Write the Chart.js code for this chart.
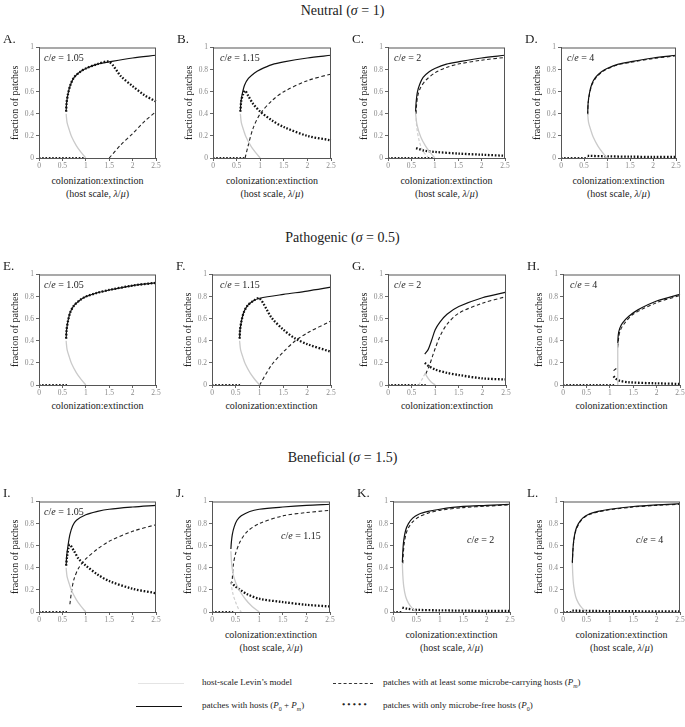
<!DOCTYPE html>
<html>
<head>
<meta charset="utf-8">
<script src="https://cdn.jsdelivr.net/npm/chart.js@4/dist/chart.umd.min.js"></script>
<style>
  body { margin: 0; background: #fff; }
  #wrap { position: relative; width: 685px; height: 727px; font-family: "Liberation Serif", "Times New Roman", serif; color: #222; overflow: hidden; }
  canvas { position: absolute; }
  .t { position: absolute; white-space: nowrap; font-family: "Liberation Serif", "Times New Roman", serif; }
  .sec { font-size: 14px; width: 685px; text-align: center; left: 0; }
  .lab { font-size: 13px; }
  .xt { font-size: 10px; text-align: center; width: 160px; line-height: 13px; }
  .ce { font-size: 10px; }
  .lg { font-size: 9px; }
  .sw { position: absolute; height: 0; }
</style>
</head>
<body>
<div id="wrap"></div>
<script>
// x range 0..2.5 (colonization:extinction), y range 0..1 (fraction of patches)
const xTicks = [0, 0.5, 1, 1.5, 2, 2.5]
const yTicks = [0, 0.2, 0.4, 0.6, 0.8, 1]

//! Neutral
const A_total = [[0.58,0.42],[0.59,0.5],[0.62,0.58],[0.67,0.66],[0.75,0.73],[0.88,0.78],[1.0,0.81],[1.25,0.85],[1.5,0.87],[2.0,0.905],[2.5,0.93]]
const A_p0 = [[0.58,0.42],[0.59,0.5],[0.62,0.58],[0.67,0.66],[0.75,0.73],[0.88,0.78],[1.0,0.81],[1.25,0.85],[1.5,0.87],[1.75,0.74],[2.0,0.65],[2.25,0.57],[2.5,0.51]]
const A_pm = [[1.5,0],[1.75,0.12],[2.0,0.22],[2.25,0.33],[2.5,0.42]]
const A_levin = [[0.58,0.4],[0.6,0.32],[0.65,0.25],[0.7,0.19],[0.8,0.11],[0.9,0.05],[1.0,0]]
const A_zero = [[0,0],[1,0]]

const B_total = [[0.58,0.42],[0.59,0.5],[0.62,0.58],[0.67,0.66],[0.75,0.72],[0.88,0.77],[1.0,0.8],[1.25,0.845],[1.5,0.87],[2.0,0.905],[2.5,0.93]]
const B_p0 = [[0.58,0.42],[0.6,0.52],[0.64,0.58],[0.68,0.61],[0.75,0.56],[0.85,0.49],[1.0,0.42],[1.25,0.34],[1.5,0.28],[2.0,0.2],[2.5,0.16]]
const B_pm = [[0.68,0],[0.75,0.12],[0.85,0.27],[1.0,0.4],[1.25,0.52],[1.5,0.6],[2.0,0.7],[2.5,0.76]]
const B_levin = [[0.58,0.4],[0.6,0.32],[0.65,0.25],[0.7,0.19],[0.8,0.11],[0.9,0.05],[1.0,0]]
const B_zero = [[0,0],[0.68,0]]

const C_total = [[0.59,0.42],[0.6,0.5],[0.63,0.6],[0.68,0.67],[0.75,0.73],[0.88,0.78],[1.0,0.81],[1.25,0.85],[1.5,0.87],[2.0,0.905],[2.5,0.93]]
const C_pm = [[0.6,0.4],[0.61,0.48],[0.64,0.57],[0.7,0.64],[0.8,0.7],[1.0,0.77],[1.25,0.82],[1.5,0.85],[2.0,0.885],[2.5,0.91]]
const C_p0 = [[0.6,0.09],[0.7,0.075],[0.8,0.065],[1.0,0.055],[1.5,0.04],[2.0,0.03],[2.5,0.02]]
const C_levin = [[0.59,0.4],[0.62,0.3],[0.7,0.19],[0.8,0.11],[0.9,0.05],[1.0,0]]
const C_levinPm = [[0.6,0.36],[0.62,0.26],[0.67,0.15],[0.75,0.06],[0.85,0.01]]
const C_zero = [[0,0],[1,0]]

const D_total = [[0.58,0.4],[0.59,0.5],[0.62,0.59],[0.67,0.67],[0.75,0.73],[0.88,0.78],[1.0,0.81],[1.25,0.85],[1.5,0.87],[2.0,0.905],[2.5,0.93]]
const D_pm = [[0.58,0.39],[0.59,0.49],[0.62,0.58],[0.67,0.66],[0.75,0.72],[0.88,0.775],[1.0,0.805],[1.25,0.845],[1.5,0.865],[2.0,0.9],[2.5,0.925]]
const D_p0 = [[0.58,0.02],[1.0,0.015],[1.5,0.012],[2.0,0.01],[2.5,0.01]]
const D_levin = [[0.58,0.4],[0.6,0.32],[0.65,0.25],[0.7,0.19],[0.8,0.11],[0.9,0.05],[1.0,0]]
const D_zero = [[0,0],[0.58,0]]

//! Pathogenic
const E_total = [[0.58,0.42],[0.59,0.5],[0.62,0.58],[0.67,0.66],[0.75,0.72],[0.88,0.77],[1.0,0.8],[1.25,0.835],[1.5,0.86],[2.0,0.9],[2.5,0.925]]
const E_p0 = [[0.58,0.42],[0.59,0.5],[0.62,0.58],[0.67,0.66],[0.75,0.72],[0.88,0.77],[1.0,0.8],[1.25,0.835],[1.5,0.86],[2.0,0.9],[2.5,0.925]]
const E_levin = [[0.58,0.4],[0.6,0.32],[0.65,0.25],[0.7,0.19],[0.8,0.11],[0.9,0.05],[1.0,0]]
const E_zero = [[0,0],[0.6,0]]

const F_total = [[0.58,0.42],[0.59,0.5],[0.62,0.58],[0.67,0.66],[0.75,0.72],[0.88,0.765],[1.0,0.785],[1.5,0.82],[2.0,0.85],[2.5,0.885]]
const F_p0 = [[0.58,0.42],[0.59,0.5],[0.62,0.58],[0.67,0.66],[0.75,0.72],[0.88,0.765],[1.0,0.785],[1.25,0.61],[1.5,0.5],[1.75,0.42],[2.0,0.37],[2.5,0.3]]
const F_pm = [[1.0,0],[1.25,0.18],[1.5,0.3],[1.75,0.4],[2.0,0.47],[2.5,0.58]]
const F_levin = [[0.58,0.4],[0.6,0.32],[0.65,0.25],[0.7,0.19],[0.8,0.11],[0.9,0.05],[1.0,0]]
const F_zero = [[0,0],[0.6,0]]

const G_total = [[0.78,0.28],[0.85,0.32],[0.92,0.4],[1.0,0.5],[1.1,0.57],[1.25,0.64],[1.5,0.71],[2.0,0.79],[2.5,0.84]]
const G_pm = [[0.8,0.1],[0.88,0.18],[0.95,0.27],[1.0,0.33],[1.1,0.44],[1.25,0.55],[1.5,0.65],[2.0,0.74],[2.5,0.8]]
const G_p0 = [[0.78,0.2],[0.85,0.175],[1.0,0.14],[1.25,0.11],[1.5,0.09],[2.0,0.06],[2.5,0.05]]
const G_levin = [[0.78,0.11],[0.85,0.06],[0.92,0.025],[1.0,0]]
const G_levinPm = [[0.65,0],[0.72,0.05],[0.78,0.1]]
const G_zero = [[0,0],[0.8,0]]

const H_total = [[1.17,0.36],[1.18,0.45],[1.21,0.51],[1.27,0.56],[1.4,0.62],[1.6,0.68],[2.0,0.76],[2.5,0.82]]
const H_pm = [[1.17,0.34],[1.19,0.43],[1.22,0.49],[1.3,0.55],[1.5,0.64],[2.0,0.745],[2.5,0.81]]
const H_pmLow = [[1.08,0.13],[1.17,0.16]]
const H_p0 = [[1.08,0.08],[1.12,0.06],[1.2,0.04],[1.4,0.025],[2.0,0.015],[2.5,0.01]]
const H_levin = [[1.17,0],[1.17,0.38]]
const H_zero = [[0,0],[1.1,0]]

//! Beneficial
const I_total = [[0.58,0.42],[0.59,0.5],[0.62,0.6],[0.66,0.7],[0.72,0.78],[0.8,0.83],[1.0,0.88],[1.25,0.91],[1.5,0.93],[2.0,0.95],[2.5,0.965]]
const I_p0 = [[0.58,0.42],[0.6,0.5],[0.63,0.58],[0.66,0.61],[0.75,0.55],[0.85,0.48],[1.0,0.42],[1.25,0.34],[1.5,0.28],[2.0,0.21],[2.5,0.17]]
const I_pm = [[0.66,0.07],[0.7,0.2],[0.75,0.3],[0.85,0.4],[1.0,0.48],[1.25,0.57],[1.5,0.64],[2.0,0.73],[2.5,0.79]]
const I_levin = [[0.58,0.4],[0.6,0.32],[0.65,0.25],[0.7,0.19],[0.8,0.11],[0.9,0.05],[1.0,0]]
const I_zero = [[0,0],[0.6,0]]

const J_total = [[0.4,0.57],[0.41,0.63],[0.43,0.7],[0.47,0.77],[0.53,0.83],[0.62,0.87],[0.8,0.91],[1.0,0.93],[1.5,0.95],[2.0,0.965],[2.5,0.975]]
const J_pm = [[0.43,0.3],[0.45,0.42],[0.5,0.53],[0.6,0.64],[0.75,0.73],[1.0,0.8],[1.5,0.87],[2.0,0.9],[2.5,0.92]]
const J_p0 = [[0.4,0.27],[0.5,0.23],[0.6,0.2],[0.75,0.16],[1.0,0.12],[1.5,0.09],[2.0,0.065],[2.5,0.05]]
const J_levin = [[0.4,0.55],[0.42,0.42],[0.46,0.32],[0.55,0.22],[0.7,0.12],[0.85,0.05],[1.0,0]]
const J_levinPm = [[0.4,0.27],[0.44,0.17],[0.5,0.09],[0.56,0.03],[0.62,0]]
const J_zero = [[0,0],[0.45,0]]

const K_total = [[0.2,0.45],[0.21,0.55],[0.23,0.65],[0.27,0.74],[0.33,0.8],[0.42,0.85],[0.55,0.885],[0.75,0.91],[1.0,0.93],[1.5,0.955],[2.0,0.965],[2.5,0.975]]
const K_pm = [[0.21,0.44],[0.22,0.53],[0.24,0.62],[0.28,0.71],[0.34,0.77],[0.43,0.82],[0.55,0.86],[0.75,0.895],[1.0,0.92],[1.5,0.945],[2.0,0.958],[2.5,0.97]]
const K_p0 = [[0.2,0.04],[0.3,0.03],[0.5,0.02],[1.0,0.015],[2.0,0.01],[2.5,0.01]]
const K_levin = [[0.2,0.44],[0.21,0.33],[0.23,0.23],[0.27,0.14],[0.33,0.08],[0.4,0.04],[0.5,0]]
const K_zero = [[0,0],[0.2,0]]

const L_total = [[0.2,0.45],[0.21,0.55],[0.23,0.65],[0.27,0.74],[0.33,0.8],[0.42,0.85],[0.55,0.885],[0.75,0.91],[1.0,0.93],[1.5,0.955],[2.0,0.97],[2.5,0.98]]
const L_pm = [[0.2,0.44],[0.21,0.54],[0.23,0.64],[0.27,0.73],[0.33,0.79],[0.42,0.845],[0.55,0.88],[0.75,0.905],[1.0,0.925],[1.5,0.95],[2.0,0.965],[2.5,0.975]]
const L_p0 = [[0.2,0.012],[1.0,0.008],[2.5,0.005]]
const L_levin = [[0.2,0.44],[0.21,0.33],[0.23,0.23],[0.27,0.14],[0.33,0.08],[0.4,0.04],[0.5,0]]
const L_zero = [[0,0],[0.2,0]]

const ceLabels = ['1.05', '1.15', '2', '4', '1.05', '1.15', '2', '4', '1.05', '1.15', '2', '4']

// line styles
const st = {
  levin: { borderColor: '#cacaca', borderWidth: 1.3 },
  levinPm: { borderColor: '#cfcfcf', borderWidth: 1.2, borderDash: [3, 2] },
  total: { borderColor: '#111', borderWidth: 1.2 },
  pm: { borderColor: '#222', borderWidth: 1.1, borderDash: [3.5, 2.5] },
  p0: { borderColor: '#111', borderWidth: 2.3, borderDash: [1.6, 1.7] },
  zero: { borderColor: '#222', borderWidth: 2, borderDash: [1.6, 1.7] }
}

// plot boxes (left, right, top, bottom of the plot area)
const panels = [
  { k: 'A', L: 39, R: 156, T: 47, B: 158, sets: { levin: A_levin, total: A_total, pm: A_pm, p0: A_p0, zero: A_zero }, ce: [44, 52], xt: 2 },
  { k: 'B', L: 213, R: 331, T: 47, B: 158, sets: { levin: B_levin, total: B_total, pm: B_pm, p0: B_p0, zero: B_zero }, ce: [220, 52], xt: 2 },
  { k: 'C', L: 388, R: 505, T: 47, B: 158, sets: { levin: C_levin, levinPm: C_levinPm, total: C_total, pm: C_pm, p0: C_p0, zero: C_zero }, ce: [394, 52], xt: 2 },
  { k: 'D', L: 561, R: 676, T: 47, B: 158, sets: { levin: D_levin, total: D_total, pm: D_pm, p0: D_p0, zero: D_zero }, ce: [567, 52], xt: 2 },
  { k: 'E', L: 39, R: 156, T: 274, B: 385, sets: { levin: E_levin, total: E_total, p0: E_p0, zero: E_zero }, ce: [44, 279], xt: 1 },
  { k: 'F', L: 212, R: 331, T: 274, B: 385, sets: { levin: F_levin, total: F_total, pm: F_pm, p0: F_p0, zero: F_zero }, ce: [220, 279], xt: 1 },
  { k: 'G', L: 388, R: 506, T: 274, B: 385, sets: { levin: G_levin, levinPm: G_levinPm, total: G_total, pm: G_pm, p0: G_p0, zero: G_zero }, ce: [394, 279], xt: 1 },
  { k: 'H', L: 563, R: 680, T: 274, B: 385, sets: { levin: H_levin, total: H_total, pm: H_pm, pmLow: H_pmLow, p0: H_p0, zero: H_zero }, ce: [570, 279], xt: 1 },
  { k: 'I', L: 39, R: 156, T: 501, B: 612, sets: { levin: I_levin, total: I_total, pm: I_pm, p0: I_p0, zero: I_zero }, ce: [44, 506], xt: 0 },
  { k: 'J', L: 212, R: 330, T: 501, B: 612, sets: { levin: J_levin, levinPm: J_levinPm, total: J_total, pm: J_pm, p0: J_p0, zero: J_zero }, ce: [281, 530], xt: 2 },
  { k: 'K', L: 393, R: 510, T: 501, B: 612, sets: { levin: K_levin, total: K_total, pm: K_pm, p0: K_p0, zero: K_zero }, ce: [467, 534], xt: 2 },
  { k: 'L', L: 563, R: 680, T: 501, B: 612, sets: { levin: L_levin, total: L_total, pm: L_pm, p0: L_p0, zero: L_zero }, ce: [636, 534], xt: 2 }
]

const wrap = document.getElementById('wrap')
function addText(cls, x, y, html) {
  const d = document.createElement('div')
  d.className = 't ' + cls
  d.style.left = x + 'px'
  d.style.top = y + 'px'
  d.innerHTML = html
  wrap.appendChild(d)
  return d
}

addText('sec', 0, 3, 'Neutral (<i>σ</i> = 1)')
addText('sec', 0, 230, 'Pathogenic (<i>σ</i> = 0.5)')
addText('sec', 0, 450, 'Beneficial (<i>σ</i> = 1.5)')

// frame round the plot area
const frame = {
  id: 'frame',
  afterDatasetsDraw(c) {
    const a = c.chartArea, g = c.ctx
    g.save()
    g.strokeStyle = '#555'
    g.lineWidth = 1
    g.strokeRect(a.left + 0.5, a.top + 0.5, a.right - a.left - 1, a.bottom - a.top)
    g.restore()
  }
}

Chart.defaults.font.family = '"Liberation Serif", "Times New Roman", serif'
const font = { size: 7.5 }
const YW = 30, XH = 14, PT = 6, PR = 9

panels.forEach((p, i) => {
  const cv = document.createElement('canvas')
  const w = p.R - p.L + YW + PR
  const h = p.B - p.T + PT + XH
  cv.width = w; cv.height = h
  cv.style.left = (p.L - YW) + 'px'
  cv.style.top = (p.T - PT) + 'px'
  cv.style.width = w + 'px'; cv.style.height = h + 'px'
  wrap.appendChild(cv)

  const order = ['levin', 'levinPm', 'zero', 'total', 'pm', 'pmLow', 'p0']
  const datasets = order.filter(n => p.sets[n]).map(n => Object.assign({
    data: p.sets[n].map(([x, y]) => ({ x, y })),
    showLine: true,
    pointRadius: 0,
    tension: 0.3,
    fill: false,
    clip: 4
  }, st[n === 'pmLow' ? 'pm' : n]))

  new Chart(cv, {
    type: 'scatter',
    data: { datasets },
    options: {
      responsive: false,
      animation: false,
      events: [],
      layout: { padding: { top: PT, right: PR, left: 0, bottom: 0 } },
      plugins: { legend: { display: false }, tooltip: { enabled: false } },
      scales: {
        x: {
          type: 'linear', min: 0, max: 2.5,
          afterBuildTicks: s => { s.ticks = xTicks.map(v => ({ value: v })) },
          afterFit: s => { s.height = XH },
          ticks: { font, color: '#8a8a8a', padding: 1, maxRotation: 0, callback: v => String(v) },
          grid: { drawOnChartArea: false, tickLength: 3, color: '#666' },
          border: { color: '#555' }
        },
        y: {
          min: 0, max: 1,
          afterBuildTicks: s => { s.ticks = yTicks.map(v => ({ value: v })) },
          afterFit: s => { s.width = YW },
          ticks: { font, color: '#8a8a8a', padding: 2, callback: v => String(v) },
          grid: { drawOnChartArea: false, tickLength: 3, color: '#666' },
          border: { color: '#555' },
          title: { display: true, text: 'fraction of patches', font: { size: 10 }, color: '#222', padding: { top: 0, bottom: 0 } }
        }
      }
    },
    plugins: [frame]
  })

  addText('lab', p.L - 36, p.T - 16, p.k + '.')
  addText('ce', p.ce[0], p.ce[1], '<i>c</i>/<i>e</i> = ' + ceLabels[i])
  const cx = (p.L + p.R) / 2 - 80
  if (p.xt === 2) addText('xt', cx, p.B + 16, 'colonization:extinction<br>(host scale, <i>λ</i>/<i>μ</i>)')
  if (p.xt === 1) addText('xt', cx, p.B + 14, 'colonization:extinction')
})

// shared legend
function swatch(x, y, w, css) {
  const d = document.createElement('div')
  d.className = 'sw'
  d.style.left = x + 'px'; d.style.top = y + 'px'; d.style.width = w + 'px'
  d.style.borderTop = css
  wrap.appendChild(d)
}
swatch(138, 683, 46, '1.2px solid #e4e4e4')
addText('lg', 202, 677, 'host-scale Levin’s model')
swatch(136, 706, 46, '1.3px solid #111')
addText('lg', 202, 700, 'patches with hosts (<i>P</i><sub style="font-size:6px">0</sub> + <i>P</i><sub style="font-size:6px"><i>m</i></sub>)')
swatch(333, 683, 40, '1px dashed #333')
addText('lg', 383, 677, 'patches with at least some microbe-carrying hosts (<i>P</i><sub style="font-size:6px"><i>m</i></sub>)')
addText('lg', 333, 699, '<span style="letter-spacing:3.5px;font-size:9px">●●●●●</span>').style.transform = 'scale(0.6,0.6)'
addText('lg', 383, 700, 'patches with only microbe-free hosts (<i>P</i><sub style="font-size:6px">0</sub>)')
</script>
</body>
</html>
